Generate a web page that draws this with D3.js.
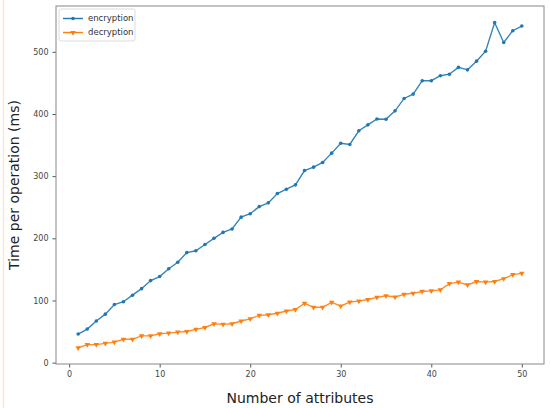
<!DOCTYPE html>
<html>
<head>
<meta charset="utf-8">
<script src="https://cdn.jsdelivr.net/npm/d3@7"></script>
<style>
  body { margin: 0; background: #fff; }
  text { font-family: "DejaVu Sans", sans-serif; }
</style>
</head>
<body>
<div id="chart"></div>
<script>
// Number of attributes 1..50
const attributes = d3.range(1, 51);

// Time per operation (ms)
const encryption = [
    46, 54, 67, 78, 93.5, 98, 108.5, 119, 132, 138.5,
    151, 161.5, 177, 180, 190, 200, 209.5, 215, 234, 239.5,
    251, 257, 272, 279, 286, 309, 314.5, 322, 337, 353,
    351, 373, 382.5, 392, 391.5, 405, 425, 432, 453.5, 453.5,
    461.5, 464, 475, 471, 485, 501, 547, 515, 534, 541.5
];
const decryption = [
    24, 29, 29, 31, 33, 37.5, 37.5, 43, 43, 46.5,
    47.5, 49, 50, 53.5, 56.5, 62.5, 61.5, 62.5, 67, 70.5,
    76, 77, 79.5, 83, 85.5, 95.5, 89, 89, 97, 91,
    97.5, 99, 101.5, 105, 107.5, 105.5, 110, 111.5, 114.5, 115.5,
    117, 127, 129.5, 125, 130.5, 129.5, 130.5, 135, 141.5, 143.5
];

const xTicks = [0, 10, 20, 30, 40, 50];
const yTicks = [0, 100, 200, 300, 400, 500];

const series = [
    { name: "encryption", values: encryption, color: "#1f77b4", marker: "dot" },
    { name: "decryption", values: decryption, color: "#ff7f0e", marker: "tri" }
];

const W = 550, H = 408;
const margin = { top: 6, right: 6, bottom: 44, left: 56 };
const width = W - margin.left - margin.right;
const height = H - margin.top - margin.bottom;

const svg = d3.select("#chart")
    .append("svg")
    .attr("width", W)
    .attr("height", H);

// faint border seen at the left edge of the picture
svg.append("line")
    .attr("x1", 3.5).attr("x2", 3.5)
    .attr("y1", 0).attr("y2", H)
    .attr("stroke", "#fde8d6")
    .attr("stroke-width", 1.5);

const g = svg.append("g")
    .attr("transform", `translate(${margin.left},${margin.top})`);

// matplotlib-style 5% margins around the data
const x = d3.scaleLinear().domain([-1.45, 52.45]).range([0, width]);
const y = d3.scaleLinear().domain([-2.2, 573.7]).range([height, 0]);

// Axes
const xAxis = g.append("g")
    .attr("transform", `translate(0,${height})`)
    .call(d3.axisBottom(x).tickValues(xTicks).tickSize(3.5).tickPadding(4));

const yAxis = g.append("g")
    .call(d3.axisLeft(y).tickValues(yTicks).tickSize(3.5).tickPadding(4));

[xAxis, yAxis].forEach(a => {
    a.select(".domain").remove();
    a.selectAll(".tick line").attr("stroke", "#555");
    a.selectAll(".tick text")
        .attr("fill", "#444")
        .style("font-size", "8px");
});

// Frame
g.append("rect")
    .attr("x", 0)
    .attr("y", 0)
    .attr("width", width)
    .attr("height", height)
    .attr("fill", "none")
    .attr("stroke", "#888")
    .attr("stroke-width", 1);

// Lines and markers
const line = d3.line()
    .x((d, i) => x(attributes[i]))
    .y(d => y(d));

const tri = d3.symbol().type(d3.symbolTriangle).size(13);

series.forEach(s => {
    g.append("path")
        .datum(s.values)
        .attr("fill", "none")
        .attr("stroke", s.color)
        .attr("stroke-opacity", 0.9)
        .attr("stroke-width", 1.4)
        .attr("d", line);

    if (s.marker === "dot") {
        g.selectAll(".m-" + s.name)
            .data(s.values)
            .enter()
            .append("circle")
            .attr("cx", (d, i) => x(attributes[i]))
            .attr("cy", d => y(d))
            .attr("r", 1.8)
            .attr("fill", s.color);
    } else {
        g.selectAll(".m-" + s.name)
            .data(s.values)
            .enter()
            .append("path")
            .attr("d", tri)
            .attr("transform", (d, i) => `translate(${x(attributes[i])},${y(d)}) rotate(180)`)
            .attr("fill", s.color);
    }
});

// Axis labels
svg.append("text")
    .attr("x", margin.left + width / 2)
    .attr("y", 403)
    .attr("text-anchor", "middle")
    .attr("fill", "#222")
    .style("font-size", "14px")
    .text("Number of attributes");

svg.append("text")
    .attr("transform", `translate(19,${margin.top + height / 2}) rotate(-90)`)
    .attr("text-anchor", "middle")
    .attr("fill", "#222")
    .style("font-size", "14px")
    .text("Time per operation (ms)");

// Legend
const legend = g.append("g")
    .attr("transform", "translate(3,3)");

legend.append("rect")
    .attr("width", 76)
    .attr("height", 32)
    .attr("rx", 2)
    .attr("fill", "#fff")
    .attr("stroke", "#ddd");

series.forEach((s, i) => {
    const ly = 9.5 + i * 14;
    legend.append("line")
        .attr("x1", 4).attr("x2", 24)
        .attr("y1", ly).attr("y2", ly)
        .attr("stroke", s.color)
        .attr("stroke-width", 1.4);
    if (s.marker === "dot") {
        legend.append("circle")
            .attr("cx", 14).attr("cy", ly)
            .attr("r", 1.8)
            .attr("fill", s.color);
    } else {
        legend.append("path")
            .attr("d", tri)
            .attr("transform", `translate(14,${ly}) rotate(180)`)
            .attr("fill", s.color);
    }
    legend.append("text")
        .attr("x", 29)
        .attr("y", ly)
        .attr("dy", "0.35em")
        .attr("fill", "#333")
        .style("font-size", "8.5px")
        .text(s.name);
});
</script>
</body>
</html>
